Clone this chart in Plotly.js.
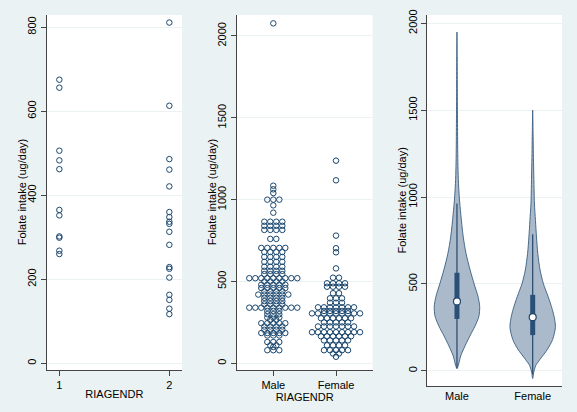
<!DOCTYPE html>
<html>
<head>
<meta charset="utf-8">
<script src="https://cdn.plot.ly/plotly-3.0.1.min.js"></script>
<style>
  html, body { margin: 0; padding: 0; background: #eaf2f3; }
  #chart { width: 577px; height: 412px; }
</style>
</head>
<body>
<div id="chart"></div>
<script>
// Panel 1: small sample, folate intake by RIAGENDR (1 / 2)
var p1Groups = [1, 2];
var p1TickText = ["1", "2"];
var p1Male = [675, 656, 506, 483, 462, 365, 352, 302, 299, 268, 260];
var p1Female = [811, 613, 486, 461, 421, 360, 348, 337, 332, 313, 282, 229, 225, 204, 163, 151, 130, 117];

// Panel 2: dot plot, binned values and how many dots sit in each bin
var dotLabels = ["Male", "Female"];
var dotMaleVals   = [80, 100, 110, 130, 170, 185, 205, 225, 245, 265, 280, 300, 320, 340, 360, 380, 400, 420, 440, 460, 480, 500, 520, 545, 565, 590, 620, 650, 680, 705, 760, 815, 840, 865, 920, 965, 1000, 1040, 1063, 1085, 2077];
var dotMaleCounts = [3,  1,   2,   3,   3,   5,   4,   4,   5,   2,   3,   3,   3,   9,   4,   4,   4,   6,   4,   5,   5,   4,   9,   4,   4,   4,   4,   4,   4,   5,   2,   4,   4,   4,   1,   1,   3,    1,    1,    1,    1];
var dotFemaleVals   = [40, 60, 80, 110, 140, 165, 190, 225, 250, 275, 305, 320, 342, 370, 397, 428, 468, 489, 523, 580, 678, 703, 780, 1118, 1238];
var dotFemaleCounts = [1,  2,  5,  4,   5,   6,   9,   7,   5,   6,   9,   5,   7,   3,   3,   2,   4,   4,   2,   1,   1,   1,   1,   1,    1];

// Panel 3: violin, density (relative width) read at levels, plus box stats
var vioLabels = ["Male", "Female"];
var vioMaleLevels  = [13, 28, 85, 143, 200, 256, 313, 370, 428, 500, 580, 675, 770, 900, 1000, 1100, 1200, 1300, 1400, 1500, 1600, 1700, 1800, 1950];
var vioMaleDens    = [0, 0.053, 0.164, 0.356, 0.569, 0.791, 0.964, 1.0, 0.924, 0.756, 0.578, 0.4, 0.276, 0.169, 0.102, 0.06, 0.04, 0.03, 0.025, 0.02, 0.016, 0.013, 0.01, 0];
var vioFemaleLevels = [-45, -10, 28, 66, 124, 180, 250, 300, 352, 428, 500, 580, 675, 770, 865, 960, 1050, 1150, 1250, 1350, 1500];
var vioFemaleDens   = [0, 0.045, 0.126, 0.324, 0.653, 0.878, 1.0, 0.96, 0.865, 0.676, 0.473, 0.324, 0.225, 0.167, 0.122, 0.077, 0.06, 0.045, 0.03, 0.02, 0];
var vioQ1 = [298, 205];
var vioMedian = [399, 308];
var vioQ3 = [564, 437];
var vioLow = [13, -20];
var vioHigh = [963, 785];

var yTitle = "Folate intake (ug/day)";
var navy = "#1a476f";
var axisColor = "#444444";
var gridColor = "#eaf2f3";
var fnt = { family: "Liberation Sans, Arial, sans-serif", size: 11, color: "#000" };

// spread each bin's dots sideways around its group, like a dot plot
function dotXY(center, vals, counts, dx) {
  var xs = [], ys = [];
  for (var i = 0; i < vals.length; i++) {
    var n = counts[i];
    for (var k = 0; k < n; k++) {
      xs.push(center + (k - (n - 1) / 2) * dx);
      ys.push(vals[i]);
    }
  }
  return { x: xs, y: ys };
}

// closed outline of a violin from density levels
function violinPath(center, levels, dens, halfMax) {
  var xs = [], ys = [];
  for (var i = 0; i < levels.length; i++) {
    xs.push(center + dens[i] * halfMax);
    ys.push(levels[i]);
  }
  for (var j = levels.length - 1; j >= 0; j--) {
    xs.push(center - dens[j] * halfMax);
    ys.push(levels[j]);
  }
  return { x: xs, y: ys };
}

var hollow = { symbol: "circle-open", size: 5.5, color: navy, line: { width: 1, color: navy } };

var traces = [];

// panel 1
traces.push({
  type: "scatter", mode: "markers", xaxis: "x", yaxis: "y",
  x: p1Male.map(function () { return p1Groups[0]; }), y: p1Male,
  marker: hollow, hoverinfo: "y"
});
traces.push({
  type: "scatter", mode: "markers", xaxis: "x", yaxis: "y",
  x: p1Female.map(function () { return p1Groups[1]; }), y: p1Female,
  marker: hollow, hoverinfo: "y"
});

// panel 2
var dm = dotXY(1, dotMaleVals, dotMaleCounts, 0.0957);
var df = dotXY(2, dotFemaleVals, dotFemaleCounts, 0.0957);
traces.push({ type: "scatter", mode: "markers", xaxis: "x2", yaxis: "y2", x: dm.x, y: dm.y, marker: hollow, hoverinfo: "y" });
traces.push({ type: "scatter", mode: "markers", xaxis: "x2", yaxis: "y2", x: df.x, y: df.y, marker: hollow, hoverinfo: "y" });

// panel 3: violin bodies
var vm = violinPath(1, vioMaleLevels, vioMaleDens, 0.3);
var vf = violinPath(2, vioFemaleLevels, vioFemaleDens, 0.3);
[vm, vf].forEach(function (v) {
  traces.push({
    type: "scatter", mode: "lines", xaxis: "x3", yaxis: "y3",
    x: v.x, y: v.y, fill: "toself", fillcolor: "#aabaca",
    line: { color: "#3a5d80", width: 0.9, shape: "spline", smoothing: 0.8 },
    hoverinfo: "skip"
  });
});

// inner box: whisker line, thick quartile bar, white median dot
// (scatter lines, so they sit above the filled violins)
[0, 1].forEach(function (i) {
  var c = i + 1;
  traces.push({
    type: "scatter", mode: "lines", xaxis: "x3", yaxis: "y3",
    x: [c, c], y: [vioLow[i], vioHigh[i]],
    line: { color: "#23466b", width: 1.2 }, hoverinfo: "skip"
  });
  traces.push({
    type: "scatter", mode: "lines", xaxis: "x3", yaxis: "y3",
    x: [c, c], y: [vioQ1[i], vioQ3[i]],
    line: { color: "#2b5077", width: 5 }, hoverinfo: "skip"
  });
});
traces.push({
  type: "scatter", mode: "markers", xaxis: "x3", yaxis: "y3",
  x: [1, 2], y: vioMedian,
  marker: { size: 7, color: "#ffffff", line: { color: "#23466b", width: 1.2 } },
  hoverinfo: "y"
});

function yAx(domain, range, step, anchor) {
  return {
    domain: domain, range: range, anchor: anchor,
    tickmode: "linear", tick0: 0, dtick: step,
    tickangle: -90, ticks: "outside", ticklen: 5, tickcolor: axisColor,
    showline: true, linecolor: axisColor, linewidth: 1,
    showgrid: true, gridcolor: gridColor, gridwidth: 1, zeroline: false,
    tickfont: fnt
  };
}

function xAx(domain, range, text, anchor, withTicks, titleText) {
  var ax = {
    domain: domain, range: range, anchor: anchor,
    tickvals: [1, 2], ticktext: text,
    ticks: withTicks ? "outside" : "", ticklen: 5, tickcolor: axisColor,
    showline: true, linecolor: axisColor, linewidth: 1,
    showgrid: false, zeroline: false, tickfont: fnt
  };
  if (titleText) ax.title = { text: titleText, font: fnt, standoff: 0 };
  return ax;
}

// y titles placed as rotated annotations so they sit where the reference has them
function yTitleAnn(xPaper, yPaper) {
  return {
    text: yTitle, xref: "paper", yref: "paper", x: xPaper, y: yPaper,
    xanchor: "center", yanchor: "middle", textangle: -90,
    showarrow: false, font: fnt
  };
}

var layout = {
  width: 577, height: 412,
  margin: { l: 0, r: 0, t: 0, b: 0 },
  paper_bgcolor: "#eaf2f3", plot_bgcolor: "#ffffff",
  showlegend: false, font: fnt,
  xaxis:  xAx([0.0809, 0.3154], [0.885, 2.115], p1TickText, "y", true, "RIAGENDR"),
  yaxis:  yAx([0.1019, 0.9636], [-16, 829], 200, "x"),
  xaxis2: xAx([0.4102, 0.6459], [0.416, 2.585], dotLabels, "y2", true, "RIAGENDR"),
  yaxis2: yAx([0.1019, 0.9636], [-41, 2128], 500, "x2"),
  xaxis3: xAx([0.7400, 0.9740], [0.604, 2.387], vioLabels, "y3", false, null),
  yaxis3: yAx([0.0631, 0.9636], [-88, 2048], 500, "x3"),
  annotations: [
    yTitleAnn(0.0376, 0.5327),
    yTitleAnn(0.3669, 0.5327),
    yTitleAnn(0.6967, 0.5133)
  ]
};

Plotly.newPlot("chart", traces, layout, { displayModeBar: false, staticPlot: true });
</script>
</body>
</html>
